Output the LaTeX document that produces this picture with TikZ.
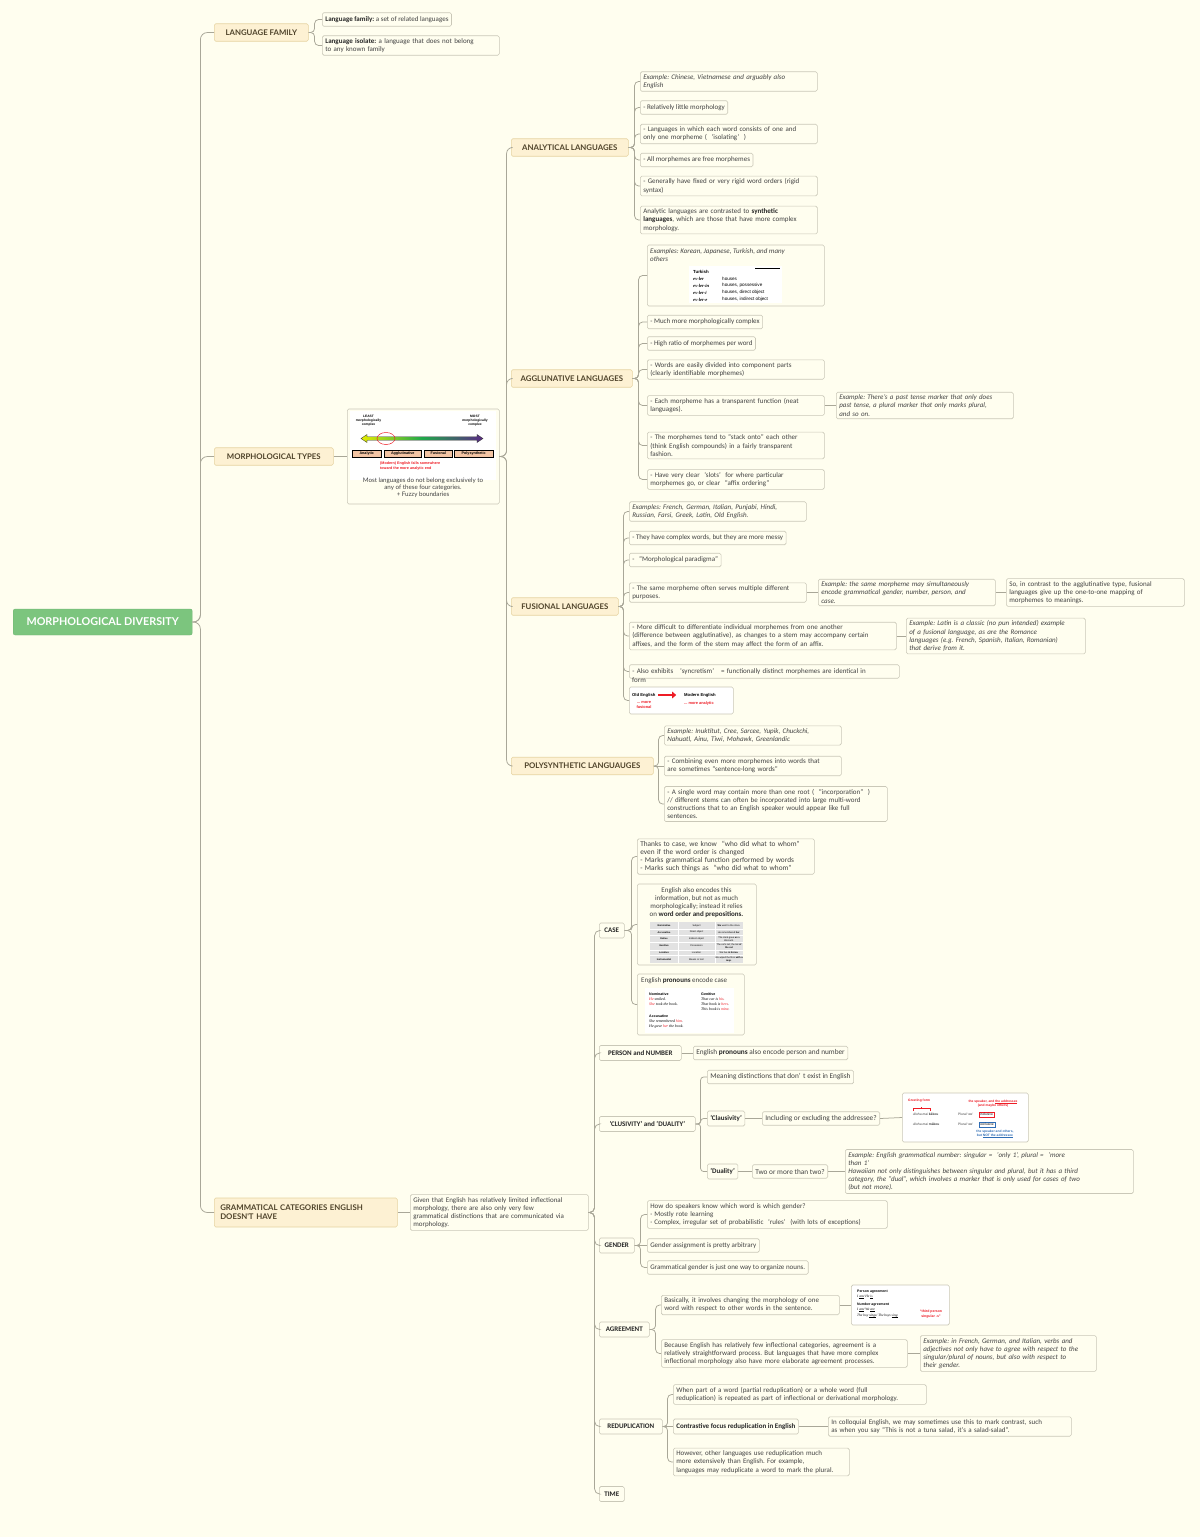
\documentclass[tikz,border=0pt]{standalone}
\usepackage{fontspec}
\setmainfont{Carlito}
\newfontfamily\hfont{Lato}
\newfontfamily\arf{Liberation Sans}
\newfontfamily\tmf{Liberation Serif}
\usetikzlibrary{arrows.meta}
\frenchspacing
\definecolor{bgc}{HTML}{FFFEEF}
\definecolor{boxc}{HTML}{CAC8B8}
\definecolor{txtc}{HTML}{424242}
\definecolor{hdfill}{HTML}{FDF1D3}
\definecolor{hdline}{HTML}{E6D4A2}
\definecolor{hdtxt}{HTML}{4E4229}
\definecolor{rootg}{HTML}{7CC57E}
\definecolor{linec}{HTML}{A9A798}
\definecolor{peach}{HTML}{F3C4A4}
\definecolor{ered}{HTML}{EE1C25}
\definecolor{eblue}{HTML}{2F6DB5}
\definecolor{tgray}{HTML}{E2E2E2}
\definecolor{arrY}{HTML}{E6EE00}
\definecolor{arrG}{HTML}{1FA84A}
\definecolor{arrP}{HTML}{5B2A86}
\newcommand\bt[1]{\textbf{\color{black!85}#1}}
\newcommand\rdt[1]{\textcolor{ered}{#1}}
\newcommand\uln[1]{\setbox0=\hbox{#1}\rlap{\vrule width\wd0 height -0.35pt depth 0.5pt}\box0}
\begin{document}
\begin{tikzpicture}[x=1pt,y=-1pt,
 bx/.style={draw=boxc, fill=bgc, rounded corners=1.5pt, line width=0.6pt, inner xsep=3pt, inner ysep=2.6pt, align=left, anchor=west, font=\fontsize{7}{8.2}\selectfont, text=txtc, minimum height=13.5pt},
 itb/.style={bx, font=\fontsize{7}{8.2}\selectfont\itshape},
 hd/.style={draw=hdline, fill=hdfill, rounded corners=1.5pt, line width=0.6pt, inner xsep=6pt, inner ysep=3pt, anchor=west, align=left, font=\hfont\bfseries\fontsize{7.8}{9.2}\selectfont, text=hdtxt, minimum height=17.5pt},
 sb/.style={bx, font=\bfseries\fontsize{7}{8.2}\selectfont, text=black!85, minimum height=15pt},
 rootn/.style={fill=rootg, draw=rootg!92!black, rounded corners=2pt, anchor=west, text=white, font=\hfont\bfseries\fontsize{10.8}{12}\selectfont, minimum width=179pt, minimum height=26pt},
 imgbox/.style={draw=boxc, fill=white, rounded corners=1.5pt, line width=0.6pt, anchor=west, inner sep=0pt},
 conn/.style={draw=linec, line width=0.75pt, rounded corners=4pt},
 tinyt/.style={inner sep=0pt, font=\arf\bfseries\fontsize{3.3}{3.9}\selectfont, align=center},
 plain/.style={inner sep=0pt, font=\fontsize{7}{8.2}\selectfont, text=txtc, align=left},
 tab1/.style={inner sep=0pt, font=\arf\bfseries\fontsize{2.4}{2.9}\selectfont, align=center},
 tab2/.style={inner sep=0pt, font=\arf\fontsize{2.4}{2.9}\selectfont, align=center},
 sm/.style={inner sep=0pt, anchor=west, font=\tmf\itshape\fontsize{3.9}{4.5}\selectfont},
 smb/.style={inner sep=0pt, anchor=west, font=\arf\bfseries\fontsize{3.6}{4.2}\selectfont},
]
\useasboundingbox (0,0) rectangle (1200,1537);
\fill[bgc] (0,0) rectangle (1200,1537);

% ---------- root and level 1
\node[rootn] (root) at (13,622) {MORPHOLOGICAL DIVERSITY};
\node[hd, minimum width=94pt] (lf) at (214,32.5) {LANGUAGE FAMILY};
\node[hd, minimum width=119pt] (mt) at (214,456.5) {MORPHOLOGICAL TYPES};
\node[hd, text width=171pt, minimum height=29pt] (gc) at (214,1212.5) {GRAMMATICAL CATEGORIES ENGLISH\\DOESN'T HAVE};
\foreach \c in {lf,mt,gc} \draw[conn, rounded corners=7pt] (root.east) -- ++(8,0) |- (\c.west);

% ---------- language family
\node[bx] (lf1) at (322,19.5) {\bt{Language family:} a set of related languages};
\node[bx, text width=171pt] (lf2) at (322,45.5) {\bt{Language isolate:} a language that does not belong\\to any known family};
\foreach \c in {lf1,lf2} \draw[conn] (lf.east) -- ++(6,0) |- (\c.west);

% ---------- morphological types image
\node[bx, minimum width=152pt, minimum height=95pt] (mimg) at (347,456.5) {};
\draw[conn] (mt.east) -- (mimg.west);
\fill[white] (350,411) rectangle (496,480);
\node[tinyt] (least) at (368.5,421) {LEAST\\morphologically\\complex};
\node[tinyt] (most) at (475,421) {MOST\\morphologically\\complex};
\shadedraw[left color=arrY, right color=arrP, middle color=arrG, draw=black!80, line width=0.3pt]
 (361,438.5) -- (367,434.5) -- (367,436.8) -- (477,436.8) -- (477,434.5) -- (483,438.5) -- (477,442.5) -- (477,440.2) -- (367,440.2) -- (367,442.5) -- cycle;
\draw[ered, line width=0.5pt] (386,438.5) ellipse [x radius=9pt, y radius=6pt];
\foreach \a/\b/\t [count=\i] in {352/381/Analytic, 384/421/Agglutinative, 424/452/Fusional, 454/493/Polysynthetic}
  \node[draw=black, fill=peach, line width=0.5pt, inner sep=0pt, minimum width={\b-\a}, minimum height=7.5pt, font=\arf\bfseries\fontsize{3.7}{4}\selectfont, anchor=west] (mb\i) at (\a,453.5) {\t};
\node[tinyt, text=ered, anchor=north west, align=left, font=\arf\bfseries\fontsize{3.7}{4.2}\selectfont] (engnote) at (380,462) {(Modern) English falls somewhere\\toward the more analytic end};
\node[inner sep=0pt, align=center, font=\hfont\fontsize{6.2}{6.8}\selectfont, text=txtc] (mcap) at (423,487.5) {Most languages do not belong exclusively to\\any of these four categories.\\+ Fuzzy boundaries};

% ---------- types
\node[hd, minimum width=117pt] (an) at (511,147.5) {ANALYTICAL LANGUAGES};
\node[hd, minimum width=121pt] (ag) at (511,378.5) {AGGLUNATIVE LANGUAGES};
\node[hd, minimum width=107pt] (fu) at (511,606.5) {FUSIONAL LANGUAGES};
\node[hd, minimum width=142pt] (po) at (511,766) {POLYSYNTHETIC LANGUAUGES};
\foreach \c in {an,ag,fu,po} \draw[conn, rounded corners=6pt] (mimg.east) -- ++(7,0) |- (\c.west);

% ---------- analytical
\node[itb, text width=171pt] (a1) at (640,81.5) {Example: Chinese, Vietnamese and arguably also\\English};
\node[bx] (a2) at (640,107.5) {- Relatively little morphology};
\node[bx, text width=171pt] (a3) at (640,134) {- Languages in which each word consists of one and\\only one morpheme (\ \ ‘isolating’\ \ )};
\node[bx] (a4) at (640,160) {- All morphemes are free morphemes};
\node[bx, text width=171pt] (a5) at (640,186) {- Generally have fixed or very rigid word orders (rigid\\syntax)};
\node[bx, text width=171pt] (a6) at (640,220) {Analytic languages are contrasted to \bt{synthetic}\\\bt{languages}, which are those that have more complex\\morphology.};
\foreach \c in {a1,a2,a3,a4,a5,a6} \draw[conn] (an.east) -- ++(6,0) |- (\c.west);

% ---------- agglutinative
\node[bx, minimum width=177pt, minimum height=61pt] (g1) at (647,275.5) {};
\node[plain, anchor=north west, font=\fontsize{7}{8.2}\selectfont\itshape] (g1t) at (650,248) {Examples: Korean, Japanese, Turkish, and many\\others};
\fill[white] (689,266) rectangle (782,303);
\draw[black, line width=0.9pt] (755,268) -- (780,268);
\node[inner sep=0pt, anchor=west, font=\arf\bfseries\fontsize{4.4}{5}\selectfont] (tk) at (693,272) {Turkish};
\foreach \w/\m/\yy [count=\i] in {ev-ler/houses/278.5, ev-ler-in/{houses, possessive}/285.5, ev-ler-i/{houses, direct object}/292.5, ev-ler-e/{houses, indirect object}/299.5} {
  \node[inner sep=0pt, anchor=west, font=\tmf\bfseries\itshape\fontsize{4.6}{5}\selectfont] (tw\i) at (693,\yy) {\w};
  \node[inner sep=0pt, anchor=west, font=\arf\fontsize{4.6}{5}\selectfont] (tm\i) at (722,\yy) {\m};
}
\node[bx] (g2) at (647,322) {- Much more morphologically complex};
\node[bx] (g3) at (647,343.5) {- High ratio of morphemes per word};
\node[bx, text width=171pt] (g4) at (647,369.5) {- Words are easily divided into component parts\\(clearly identifiable morphemes)};
\node[bx, text width=171pt] (g5) at (647,405.5) {- Each morpheme has a transparent function (neat\\languages).};
\node[itb, text width=171pt] (g5a) at (836,405.5) {Example: There’s a past tense marker that only does\\past tense, a plural marker that only marks plural,\\and so on.};
\node[bx, text width=171pt] (g6) at (647,445.5) {- The morphemes tend to “stack onto” each other\\(think English compounds) in a fairly transparent\\fashion.};
\node[bx, text width=171pt] (g7) at (647,479.5) {- Have very clear \ ‘slots’ \ for where particular\\morphemes go, or clear \ “affix ordering”};
\foreach \c in {g1,g2,g3,g4,g5,g6,g7} \draw[conn] (ag.east) -- ++(6,0) |- (\c.west);
\draw[conn] (g5.east) -- (g5a.west);

% ---------- fusional
\node[itb, text width=171pt] (f1) at (629,511.5) {Examples: French, German, Italian, Punjabi, Hindi,\\Russian, Farsi, Greek, Latin, Old English.};
\node[bx] (f2) at (629,538) {- They have complex words, but they are more messy};
\node[bx] (f3) at (629,560) {- \ \ “Morphological paradigma”};
\node[bx, text width=171pt] (f4) at (629,592.5) {- The same morpheme often serves multiple different\\purposes.};
\node[itb, text width=171pt] (f4a) at (818,592.5) {Example: the same morpheme may simultaneously\\encode grammatical gender, number, person, and\\case.};
\node[bx, text width=172pt] (f4b) at (1006,592.5) {So, in contrast to the agglutinative type, fusional\\languages give up the one-to-one mapping of\\morphemes to meanings.};
\node[bx, text width=261pt] (f5) at (629,636) {- More difficult to differentiate individual morphemes from one another\\(difference between agglutinative), as changes to a stem may accompany certain\\affixes, and the form of the stem may affect the form of an affix.};
\node[itb, text width=173pt] (f5a) at (906,636) {Example: Latin is a classic (no pun intended) example\\of a fusional language, as are the Romance\\languages (e.g. French, Spanish, Italian, Romanian)\\that derive from it.};
\node[bx, text width=264pt] (f6) at (629,671.5) {- Also exhibits \ \ ‘syncretism’ \ \ = functionally distinct morphemes are identical in};
\node[plain, anchor=north west] (f6b) at (632,677.5) {form};
\node[imgbox, minimum width=104pt, minimum height=27pt] (f7) at (629,700.5) {};
\node[smb, font=\arf\bfseries\fontsize{4.2}{4.8}\selectfont] (oe) at (632,695) {Old English};
\node[smb, font=\arf\bfseries\fontsize{4.2}{4.8}\selectfont] (me) at (684,695) {Modern English};
\draw[ered, line width=2.4pt, -{Triangle[length=4pt,width=6.5pt]}] (oe.east) ++(2.5,0) -- ++(18,0);
\node[tinyt, text=ered, font=\arf\bfseries\fontsize{3.9}{5}\selectfont] (oefu) at (644,704.5) {... more\\fusional};
\node[smb, text=ered, font=\arf\bfseries\fontsize{3.9}{4.5}\selectfont] (mean) at (684,703) {... more analytic};
\foreach \c in {f1,f2,f3,f4,f5,f6,f7} \draw[conn] (fu.east) -- ++(5,0) |- (\c.west);
\draw[conn] (f4.east) -- (f4a.west);
\draw[conn] (f4a.east) -- (f4b.west);
\draw[conn] (f5.east) -- (f5a.west);

% ---------- polysynthetic
\node[itb, text width=171pt] (p1) at (664,735.5) {Example: Inuktitut, Cree, Sarcee, Yupik, Chuckchi,\\Nahuatl, Ainu, Tiwi, Mohawk, Greenlandic};
\node[bx, text width=171pt] (p2) at (664,766) {- Combining even more morphemes into words that\\are sometimes “sentence-long words”};
\node[bx, text width=217pt] (p3) at (664,804) {- A single word may contain more than one root (\ \ “incorporation”\ \ )\\// different stems can often be incorporated into large multi-word\\constructions that to an English speaker would appear like full\\sentences.};
\foreach \c in {p1,p3} \draw[conn] (po.east) -- ++(5,0) |- (\c.west);
\draw[conn] (po.east) -- (p2.west);

% ---------- grammatical categories
\node[bx, text width=172pt] (gc1) at (410,1212.5) {Given that English has relatively limited inflectional\\morphology, there are also only very few\\grammatical distinctions that are communicated via\\morphology.};
\draw[conn] (gc.east) -- (gc1.west);
\node[sb, minimum width=25pt] (case) at (599,930.5) {CASE};
\node[sb, minimum width=82pt] (pn) at (599,1053) {PERSON and NUMBER};
\node[sb, minimum width=96pt] (cd) at (599,1124) {'CLUSIVITY' and 'DUALITY'};
\node[sb, minimum width=35pt] (gen) at (599,1245.5) {GENDER};
\node[sb, minimum width=50pt] (agr) at (599,1329.5) {AGREEMENT};
\node[sb, minimum width=63pt] (redup) at (599,1426.5) {REDUPLICATION};
\node[sb, minimum width=25pt] (time) at (599,1494) {TIME};
\foreach \c in {case,pn,cd,gen,agr,redup,time} \draw[conn, rounded corners=5pt] (gc1.east) -- ++(6,0) |- (\c.west);

% ---------- case
\node[bx, text width=171pt, font=\fontsize{7.3}{7.9}\selectfont] (c1) at (637,856.5) {Thanks to case, we know \ “who did what to whom”\\even if the word order is changed\\- Marks grammatical function performed by words\\- Marks such things as \ “who did what to whom”};
\node[bx, minimum width=119pt, minimum height=81pt] (c2) at (637,924.5) {};
\node[plain, anchor=north, align=center] (c2t) at (696.5,887) {English also encodes this\\information, but not as much\\morphologically; instead it relies\\on \bt{word order and prepositions.}};
\fill[tgray] (650,922) rectangle (743,963);
\foreach \yy in {929,935.7,942.3,950,955.7} \draw[white, line width=0.6pt] (650,\yy) -- (743,\yy);
\foreach \xx in {678,715} \draw[white, line width=0.6pt] (\xx,922) -- (\xx,963);
\foreach \nn/\rr/\ee/\yy [count=\i] in {Nominative/Subject/{\textbf{We} went to the store.}/925.5, Accusative/Direct object/{He remembered \textbf{her}.}/932.3, Dative/Indirect object/{The clerk gave \textbf{us} a\\discount.}/939, Genitive/Possession/{The cat's tail; the tail \textbf{of}\\\textbf{the cat}}/946.1, Locative/Location/{We live \textbf{in Korea}.}/952.9, Instrumental/Means or tool/{We wiped the floor \textbf{with a}\\\textbf{mop}.}/959.3} {
  \node[tab1] (cn\i) at (664,\yy) {\nn};
  \node[tab2] (cr\i) at (696.5,\yy) {\rr};
  \node[tab2] (ce\i) at (729,\yy) {\ee};
}
\node[bx, minimum width=107pt, minimum height=61pt] (c3) at (637,1004.5) {};
\node[plain, anchor=west] (c3t) at (641,981) {English \bt{pronouns} encode case};
\fill[white] (645,988) rectangle (734,1033);
\node[smb] (pnom) at (649,994) {Nominative};
\node[sm] (pn1a) at (649,999.5) {\rdt{He} smiled.};
\node[sm] (pn1b) at (649,1004.5) {\rdt{She} took the book.};
\node[smb] (pgen) at (701,994) {Genitive};
\node[sm] (pg1) at (701,999.5) {That car is \rdt{his}.};
\node[sm] (pg2) at (701,1004.5) {That book is \rdt{hers}.};
\node[sm] (pg3) at (701,1009.5) {This book is \rdt{mine}.};
\node[smb] (pacc) at (649,1016.5) {Accusative};
\node[sm] (pa1) at (649,1021.5) {She remembered \rdt{him}.};
\node[sm] (pa2) at (649,1026.5) {He gave \rdt{her} the book.};
\foreach \c in {c1,c2,c3} \draw[conn] (case.east) -- ++(7,0) |- (\c.west);

% ---------- person and number
\node[bx, font=\fontsize{7.3}{8.2}\selectfont] (pn1) at (693,1053) {English \bt{pronouns} also encode person and number};
\draw[conn] (pn.east) -- (pn1.west);

% ---------- clusivity and duality
\node[bx, font=\fontsize{7.3}{8.2}\selectfont] (cd1) at (707,1077) {Meaning distinctions that don’\,\,t exist in English};
\node[sb] (cl) at (707,1118.5) {'Clausivity'};
\node[bx, font=\fontsize{7.3}{8.2}\selectfont] (cl1) at (762,1118.5) {Including or excluding the addressee?};
\node[imgbox, minimum width=126pt, minimum height=49pt] (clim) at (902,1117.5) {};
\node[sb] (du) at (707,1171.5) {'Duality'};
\node[bx, font=\fontsize{7.3}{8.2}\selectfont] (du1) at (752,1171.5) {Two or more than two?};
\node[itb, text width=282pt] (du2) at (845,1171.5) {Example: English grammatical number: singular = \ ‘only 1’, plural = \ ‘more\\than 1’\\Hawaiian not only distinguishes between singular and plural, but it has a third\\category, the “dual”, which involves a marker that is only used for cases of two\\(but not more).};
\foreach \c in {cd1,cl,du} \draw[conn, rounded corners=3pt] (cd.east) -- ++(5,0) |- (\c.west);
\draw[conn] (cl.east) -- (cl1.west);
\draw[conn] (cl1.east) -- (clim.west);
\draw[conn] (du.east) -- (du1.west);
\draw[conn] (du1.east) -- (du2.west);
% clusivity picture
\node[smb, text=ered, font=\arf\bfseries\fontsize{3.3}{3.9}\selectfont] (gform) at (908,1101) {Greeting form};
\draw[ered, line width=0.4pt] (913,1111) -- (913,1108.5) -- (930,1108.5) -- (930,1111) (921.5,1108.5) -- (921.5,1106.5);
\node[smb, text=black!75, font=\arf\fontsize{3.3}{3.9}\selectfont] (aka) at (913,1114.5) {\textit{Aloha mai} \textbf{kākou}};
\node[smb, text=black!75, font=\arf\fontsize{3.3}{3.9}\selectfont] (ama) at (913,1124.5) {\textit{Aloha mai} \textbf{mākou}};
\node[tinyt, text=ered, font=\arf\bfseries\fontsize{3.3}{4.2}\selectfont] (spk) at (993,1103.5) {the speaker, and \uln{the addressee}\\(and maybe others)};
\node[smb, text=black!75, font=\arf\fontsize{3.3}{3.9}\selectfont] (pw1) at (958,1114.5) {Plural ‘we’};
\node[draw=ered, line width=0.5pt, inner xsep=1pt, inner ysep=1.2pt, anchor=west, font=\arf\fontsize{3.3}{3.9}\selectfont] (incl) at (979,1114.5) {inclusive};
\node[smb, text=black!75, font=\arf\fontsize{3.3}{3.9}\selectfont] (pw2) at (958,1124.5) {Plural ‘we’};
\node[draw=eblue, line width=0.5pt, inner xsep=1pt, inner ysep=1.2pt, anchor=west, font=\arf\fontsize{3.3}{3.9}\selectfont] (excl) at (979,1124.5) {exclusive};
\node[tinyt, text=eblue, font=\arf\bfseries\fontsize{3.3}{4.2}\selectfont] (spo) at (995,1133.5) {the speaker and others,\\but \uln{NOT the addressee}};

% ---------- gender
\node[bx, text width=234pt] (ge1) at (647,1214.5) {How do speakers know which word is which gender?\\· Mostly rote learning\\· Complex, irregular set of probabilistic \ ‘rules’ \ (with lots of exceptions)};
\node[bx] (ge2) at (647,1245.5) {Gender assignment is pretty arbitrary};
\node[bx] (ge3) at (647,1267.5) {Grammatical gender is just one way to organize nouns.};
\foreach \c in {ge1,ge3} \draw[conn] (gen.east) -- ++(6,0) |- (\c.west);
\draw[conn] (gen.east) -- (ge2.west);

% ---------- agreement
\node[bx, text width=172pt] (ag1) at (661,1305) {Basically, it involves changing the morphology of one\\word with respect to other words in the sentence.};
\node[imgbox, minimum width=98pt, minimum height=40pt] (agim) at (851,1305) {};
\node[bx, text width=240pt] (ag2) at (661,1353.5) {Because English has relatively few inflectional categories, agreement is a\\relatively straightforward process. But languages that have more complex\\inflectional morphology also have more elaborate agreement processes.};
\node[itb, text width=170pt] (ag2a) at (920,1353.5) {Example: in French, German, and Italian, verbs and\\adjectives not only have to agree with respect to the\\singular/plural of nouns, but also with respect to\\their gender.};
\foreach \c in {ag1,ag2} \draw[conn] (agr.east) -- ++(6,0) |- (\c.west);
\draw[conn] (ag1.east) -- (agim.west);
\draw[conn] (ag2.east) -- (ag2a.west);
\node[smb, font=\arf\bfseries\fontsize{3.5}{4}\selectfont] (pagr) at (857,1291.5) {Person agreement};
\node[sm, font=\tmf\itshape\fontsize{3.5}{4}\selectfont] (pagr1) at (857,1296.5) {I \uln{am} / He \uln{is}};
\node[smb, font=\arf\bfseries\fontsize{3.5}{4}\selectfont] (nagr) at (857,1304.5) {Number agreement};
\node[sm, font=\tmf\itshape\fontsize{3.5}{4}\selectfont] (nagr1) at (857,1310) {I \uln{am} / We \uln{are}};
\node[sm, font=\tmf\itshape\fontsize{3.5}{4}\selectfont] (nagr2) at (857,1315.5) {The boy \uln{sings} / The boys \uln{sing}};
\node[tinyt, text=ered, font=\arf\bfseries\fontsize{3.5}{4.4}\selectfont] (tps) at (931,1314) {“third person\\singular -s”};

% ---------- reduplication
\node[bx, text width=247pt] (r1) at (673,1394.5) {When part of a word (partial reduplication) or a whole word (full\\reduplication) is repeated as part of inflectional or derivational morphology.};
\node[sb] (r2) at (673,1426.5) {Contrastive focus reduplication in English};
\node[bx, text width=237pt] (r2a) at (828,1426.5) {In colloquial English, we may sometimes use this to mark contrast, such\\as when you say “This is not a tuna salad, it’s a salad-salad”.};
\node[bx, text width=170pt] (r3) at (673,1462) {However, other languages use reduplication much\\more extensively than English. For example,\\languages may reduplicate a word to mark the plural.};
\foreach \c in {r1,r3} \draw[conn] (redup.east) -- ++(5,0) |- (\c.west);
\draw[conn] (redup.east) -- (r2.west);
\draw[conn] (r2.east) -- (r2a.west);
\end{tikzpicture}
\end{document}
